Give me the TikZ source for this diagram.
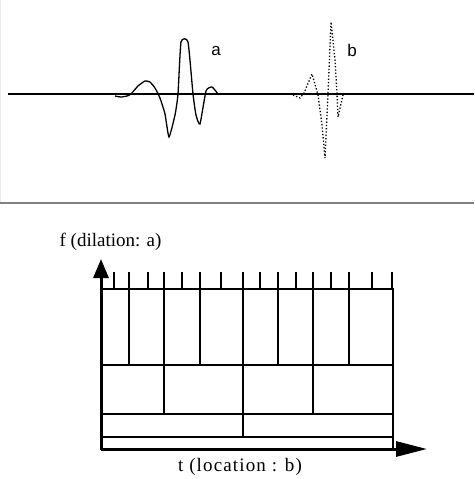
\documentclass[tikz,border=0pt]{standalone}
\usepackage{fontspec}
\setmainfont{Liberation Serif}
\newfontfamily\wavefont{Liberation Sans}
\usetikzlibrary{arrows.meta}

\begin{document}
\begin{tikzpicture}[x=1pt, y=-1pt,
		grid/.style={line width=2pt},
		axis/.style={line width=3pt}]
		\useasboundingbox (0,0) rectangle (474,479);
		% top panel: two wavelets on the time line
		\draw [gray!15, line width=0.8pt] (0.5,0)--(0.5,203);
		\draw [line width=1.8pt] (8,94)--(474,94);
		\draw [gray, line width=1.8pt] (0,203)--(474,203);
		\draw [line width=1.3pt] plot [smooth, tension=0.3] coordinates {(115,96) (121,97) (127,96) (131,94) (138,86) (145,81) (150,82) (155,88) (160,98) (165,114) (169,137) (175,115) (178,94) (181,42) (188,42) (193,94) (196,115) (200,124) (206,91) (212,87) (218,94)};
		\draw [line width=1.3pt, dotted] (293,95)--(300,98)--(304,93)--(312,74)--(318,95)--(322,125)--(325,158)--(328,94)--(331,22)--(335,60)--(337,94)--(338,117)--(343,95);
		\node (a)[font=\wavefont\fontsize{17}{17}\selectfont] at (216,51) {a};
		\node (b)[font=\wavefont\fontsize{17}{17}\selectfont] at (352,50) {b};
		%
		% bottom panel: time-scale tiling
		\coordinate (o) at (101,449);
		\coordinate (ftip) at (101,259);
		\coordinate (ttip) at (427,449);
		\draw [grid] (101,289) rectangle (393,449);
		\draw [grid] (101,365)--(393,365);
		\draw [grid] (101,414)--(393,414);
		\draw [grid] (101,437)--(393,437);
		\draw [grid] (114,289)--(114,272) (129,289)--(129,272) (148,289)--(148,272) (164,289)--(164,272)
			(182,289)--(182,272) (200,289)--(200,272) (221,289)--(221,272) (243,289)--(243,272)
			(260,289)--(260,272) (278,289)--(278,272) (296,289)--(296,272) (313,289)--(313,272)
			(331,289)--(331,272) (349,289)--(349,272) (372,289)--(372,272) (392,289)--(392,272);
		\draw [grid] (129,289)--(129,365) (164,289)--(164,365) (200,289)--(200,365) (243,289)--(243,365)
			(278,289)--(278,365) (313,289)--(313,365) (349,289)--(349,365);
		\draw [grid] (164,365)--(164,414) (243,365)--(243,414) (313,365)--(313,414);
		\draw [grid] (243,414)--(243,437);
		\draw [axis, -{Triangle[length=19pt, width=15pt]}] (o)--(ftip);
		\draw [axis, -{Triangle[length=31pt, width=15pt]}] (o)--(ttip);
		\node (f)[anchor=base east, font=\fontsize{19}{19}\selectfont] at (165,246) {f (dilation: a)};
		\node (t)[anchor=base, font=\fontsize{19}{19}\selectfont] at (240,471) {\addfontfeature{LetterSpace=6}t (location : b)};
	\end{tikzpicture}
\end{document}
